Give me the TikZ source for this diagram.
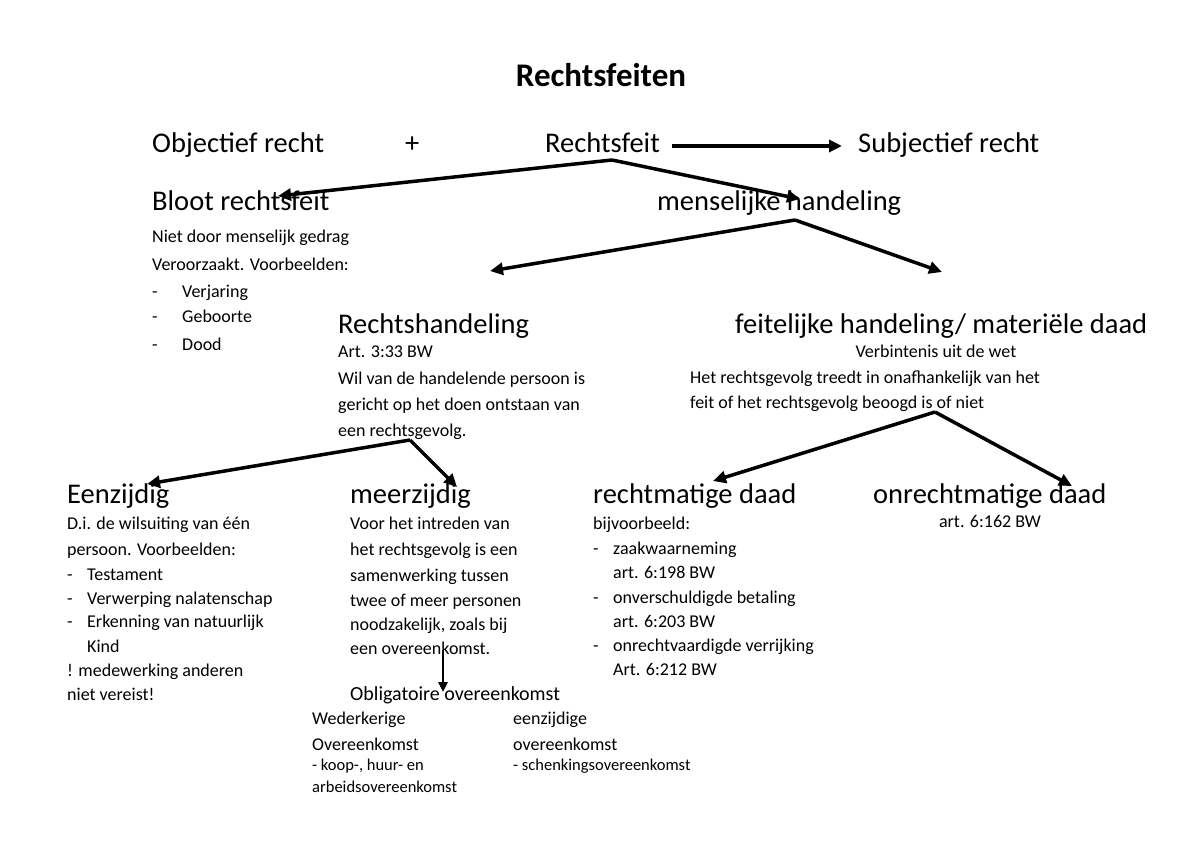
\documentclass[tikz,border=0pt]{standalone}
\usepackage{fontspec}
\setmainfont{Carlito}
\usetikzlibrary{arrows.meta}
\begin{document}
\begin{tikzpicture}[x=1pt,y=-1pt,
  big/.style={anchor=base west,inner sep=0,font=\fontsize{28.5}{32}\selectfont},
  txt/.style={anchor=base west,inner sep=0,font=\fontsize{18}{20}\selectfont},
  sml/.style={anchor=base west,inner sep=0,font=\fontsize{18}{18}\selectfont},
  tiny/.style={anchor=base west,inner sep=0,font=\fontsize{16.5}{16}\selectfont},
  arr/.style={line width=3.5pt,-{Triangle[length=13pt,width=12pt]}}]
\useasboundingbox (0,0) rectangle (1200,848);
\node[anchor=base,inner sep=0,font=\fontsize{33}{36}\selectfont\bfseries] (title) at (601,87) {Rechtsfeiten};
\node[big] (obj) at (152,153) {Objectief recht};
\node[big] (plus) at (405,153) {+};
\node[big] (rf) at (545,153) {Rechtsfeit};
\node[big] (subj) at (858,153) {Subjectief recht};
\coordinate (a1) at (672,146); \coordinate (a2) at (842,146);
\draw[arr] (a1) -- (a2);
\node[big] (bloot) at (152,210) {Bloot rechtsfeit};
\node[big] (mens) at (657,210) {menselijke handeling};
\coordinate (r0) at (612,160); \coordinate (r1) at (278,196); \coordinate (r2) at (800,199);
\draw[arr] (r0) -- (r1); \draw[arr] (r0) -- (r2);
\node[txt] (b1) at (152,242) {Niet door menselijk gedrag};
\node[txt] (b2) at (152,270) {Veroorzaakt. Voorbeelden:};
\foreach \t/\y in {Verjaring/297,Geboorte/322,Dood/350}{
  \node[txt] at (152,\y) {-}; \node[txt] at (182,\y) {\t};}
\coordinate (m0) at (795,220); \coordinate (m1) at (490,271); \coordinate (m2) at (942,272);
\draw[arr] (m0) -- (m1); \draw[arr] (m0) -- (m2);
\node[big] (rh) at (338,333) {Rechtshandeling};
\node[sml] at (338,357) {Art. 3:33 BW};
\node[txt] at (338,384) {Wil van de handelende persoon is};
\node[txt] at (338,410) {gericht op het doen ontstaan van};
\node[txt] at (338,436) {een rechtsgevolg.};
\node[big] (fh) at (735,333) {feitelijke handeling/ materiële daad};
\node[anchor=base,inner sep=0,font=\fontsize{18}{20}\selectfont] at (936,357) {Verbintenis uit de wet};
\node[txt] at (690,383) {Het rechtsgevolg treedt in onafhankelijk van het};
\node[txt] at (690,408) {feit of het rechtsgevolg beoogd is of niet};
\coordinate (f0) at (935,412); \coordinate (f1) at (713,481); \coordinate (f2) at (1072,486);
\draw[arr] (f0) -- (f1); \draw[arr] (f0) -- (f2);
\coordinate (h0) at (410,440); \coordinate (h1) at (147,484); \coordinate (h2) at (457,487);
\draw[arr] (h0) -- (h1); \draw[arr] (h0) -- (h2);
\node[big] (een) at (67,503) {Eenzijdig};
\node[txt] at (67,529) {D.i. de wilsuiting van één};
\node[txt] at (67,555) {persoon. Voorbeelden:};
\foreach \t/\y in {Testament/580,Verwerping nalatenschap/604,Erkenning van natuurlijk/627}{
  \node[txt] at (67,\y) {-}; \node[txt] at (87,\y) {\t};}
\node[txt] at (87,652) {Kind};
\node[txt] at (67,676) {! medewerking anderen};
\node[txt] at (67,700) {niet vereist!};
\node[big] (meer) at (350,503) {meerzijdig};
\node[txt] at (350,529) {Voor het intreden van};
\node[txt] at (350,555) {het rechtsgevolg is een};
\node[txt] at (350,581) {samenwerking tussen};
\node[txt] at (350,606) {twee of meer personen};
\node[txt] at (350,630) {noodzakelijk, zoals bij};
\node[txt] at (350,654) {een overeenkomst.};
\coordinate (o0) at (443,650); \coordinate (o1) at (443,692);
\draw[line width=2.5pt,-{Triangle[length=10pt,width=9pt]}] (o0) -- (o1);
\node[anchor=base west,inner sep=0,font=\fontsize{20}{22}\selectfont] (obl) at (350,700) {Obligatoire overeenkomst};
\node[txt] at (312,724) {Wederkerige};
\node[txt] at (312,750) {Overeenkomst};
\node[tiny] at (312,770) {- koop-, huur- en};
\node[tiny] at (312,792) {arbeidsovereenkomst};
\node[txt] at (513,724) {eenzijdige};
\node[txt] at (513,750) {overeenkomst};
\node[tiny] at (513,770) {- schenkingsovereenkomst};
\node[big] (rd) at (593,503) {rechtmatige daad};
\node[txt] at (593,529) {bijvoorbeeld:};
\foreach \t/\y in {zaakwaarneming/554,onverschuldigde betaling/603,onrechtvaardigde verrijking/651}{
  \node[txt] at (593,\y) {-}; \node[txt] at (613,\y) {\t};}
\node[txt] at (613,578) {art. 6:198 BW};
\node[txt] at (613,627) {art. 6:203 BW};
\node[txt] at (613,675) {Art. 6:212 BW};
\node[big] (ord) at (873,503) {onrechtmatige daad};
\node[anchor=base,inner sep=0,font=\fontsize{18}{20}\selectfont] at (990,527) {art. 6:162 BW};
\end{tikzpicture}
\end{document}
